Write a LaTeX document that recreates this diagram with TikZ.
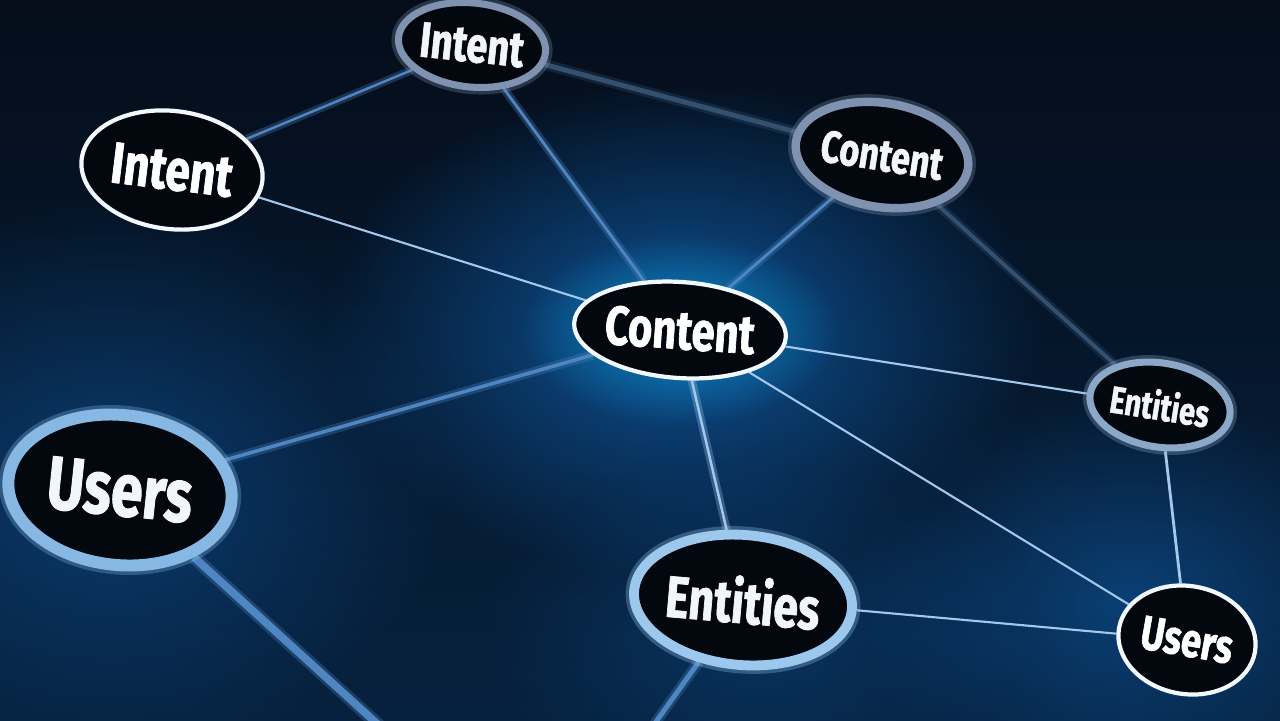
\documentclass[tikz,border=0pt]{standalone}
\usepackage{fontspec}
\newfontfamily\labelfont{Fira Sans}[FakeStretch=0.76, BoldFeatures={FakeBold=1.2}]
\usetikzlibrary{shapes.geometric,fadings}
\pgfdeclarelayer{back}
\pgfdeclarelayer{links}
\pgfsetlayers{back,links,main}
\tikzfading[name=softedge, inner color=transparent!0, outer color=transparent!100]
\definecolor{night}{HTML}{050D1A}
\definecolor{deepsea}{HTML}{06213E}
\definecolor{glowblue}{HTML}{0F5CA8}
\definecolor{hole}{HTML}{03070E}
\definecolor{rimwhite}{HTML}{F2F8FF}
\definecolor{rimsky}{HTML}{9CC8EE}
\definecolor{rimslate}{HTML}{7F93B0}
\definecolor{linkblue}{HTML}{A4C8EC}
\definecolor{linkmid}{HTML}{4F86C2}
\definecolor{linkdim}{HTML}{34506F}
\tikzset{
every picture/.append style={
    line join=round,
    line cap=round
  },
  bubble/.style={ellipse, fill=hole, inner sep=0pt, text=white},
  lettering/.style={font=\labelfont\bfseries\fontsize{#1}{#1}\selectfont},
  sharp/.style={bubble, draw=rimwhite, line width=1.2pt},
  hazy/.style 2 args={bubble, draw=#1, line width=#2, text=white!85!rimsky,
    preaction={draw=#1, line width=#2+2pt, draw opacity=.3}},
  link/.style={draw=linkblue, line width=.6pt},
  haze/.style 2 args={draw=#1, line width=#2,
    preaction={draw=#1, line width=#2+1.6pt, draw opacity=.3}},
  glow/.style={path fading=softedge, fill=#1}
}

\begin{document}
\begin{tikzpicture}[x=0.1mm,y=-0.1mm]
        \useasboundingbox (0,0) rectangle (1280,720);

        \node[sharp, lettering=16.6, minimum width=18.2mm, minimum height=11.8mm, rotate=-7] (intentL) at (172,170) {Intent};
        \node[hazy={rimslate}{2pt}, lettering=14.2, minimum width=14.6mm, minimum height=8.4mm, rotate=-6] (intentT) at (472,45) {Intent};
        \node[hazy={rimslate}{2.4pt}, lettering=12.8, minimum width=15.2mm, minimum height=10.4mm, rotate=-9] (contentTR) at (882,155) {Content};
        \node[sharp, lettering=15.6, minimum width=19.2mm, minimum height=9.6mm, rotate=-4] (contentC) at (680,330) {Content};
        \node[hazy={rimslate!60!rimsky}{2pt}, lettering=10.8, minimum width=12mm, minimum height=8.4mm, rotate=-9] (entitiesR) at (1160,405) {Entities};
        \node[hazy={rimsky!85!glowblue}{3.4pt}, lettering=21.4, minimum width=22.4mm, minimum height=15mm, rotate=-6] (usersL) at (120,490) {Users};
        \node[hazy={rimsky}{2.8pt}, lettering=16.7, minimum width=21.4mm, minimum height=13mm, rotate=-5] (entitiesB) at (743,600) {Entities};
        \node[sharp, lettering=13.6, minimum width=13.8mm, minimum height=10.8mm, rotate=-10] (usersBR) at (1187,640) {Users};

        \coordinate (exitL) at (395,740);
        \coordinate (exitB) at (643,740);

        \begin{pgfonlayer}{back}
        \shade[top color=night, bottom color=deepsea] (0,0) rectangle (1280,720);
        \path[glow=glowblue, opacity=.5] (110,480) ellipse (340 and 280);
        \path[glow=glowblue, opacity=.55] (1130,600) ellipse (280 and 210);
        \path[glow=glowblue, opacity=.35] (760,630) ellipse (280 and 170);
        \path[glow=glowblue, opacity=.85] (680,330) ellipse (360 and 250);
        \path[glow=glowblue!75!cyan] (contentC.center) ellipse (160 and 95);
        \end{pgfonlayer}

        \begin{pgfonlayer}{links}
        \draw[haze={linkmid}{.7pt}] (intentL) -- (intentT);
        \draw[link] (intentL) -- (contentC);
        \draw[haze={linkmid}{.8pt}] (intentT) -- (contentC);
        \draw[haze={linkdim}{1.4pt}] (intentT) -- (contentTR);
        \draw[haze={linkmid}{.8pt}] (contentTR) -- (contentC);
        \draw[haze={linkdim}{1.1pt}] (contentTR) -- (entitiesR);
        \draw[link] (contentC) -- (entitiesR);
        \draw[link] (contentC) -- (usersBR);
        \draw[haze={linkmid}{1pt}] (contentC) -- (usersL);
        \draw[haze={linkblue}{.7pt}] (contentC) -- (entitiesB);
        \draw[link, line width=.8pt] (entitiesR) -- (usersBR);
        \draw[link] (entitiesB) -- (usersBR);
        \draw[haze={linkmid}{2.2pt}] (usersL) -- (exitL);
        \draw[haze={linkmid}{1.4pt}] (entitiesB) -- (exitB);
        \end{pgfonlayer}
    \end{tikzpicture}
\end{document}
